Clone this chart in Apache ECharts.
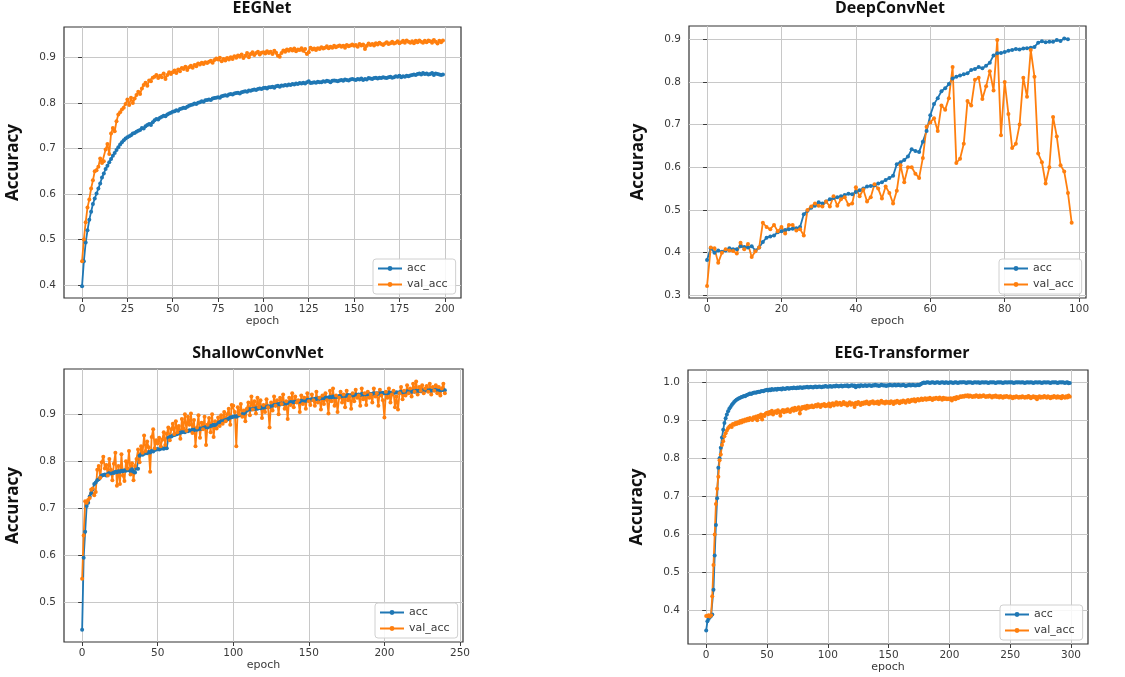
<!DOCTYPE html>
<html>
<head>
<meta charset="utf-8">
<script src="https://cdn.jsdelivr.net/npm/echarts/dist/echarts.min.js"></script>
<style>
html,body{margin:0;padding:0;background:#fff;}
#chart{width:1125px;height:677px;}
</style>
</head>
<body>
<div id="chart"></div>
<script>
// ---------------- DATA ----------------
const titles = ['EEGNet', 'DeepConvNet', 'ShallowConvNet', 'EEG-Transformer'];
const seriesNames = ['acc', 'val_acc'];
const yLabel = 'Accuracy';
const xLabel = 'epoch';

const eegnetXTicks = [0, 25, 50, 75, 100, 125, 150, 175, 200];
const eegnetYTicks = [0.4, 0.5, 0.6, 0.7, 0.8, 0.9];
const deepXTicks = [0, 20, 40, 60, 80, 100];
const deepYTicks = [0.3, 0.4, 0.5, 0.6, 0.7, 0.8, 0.9];
const shallowXTicks = [0, 50, 100, 150, 200, 250];
const shallowYTicks = [0.5, 0.6, 0.7, 0.8, 0.9];
const transXTicks = [0, 50, 100, 150, 200, 250, 300];
const transYTicks = [0.4, 0.5, 0.6, 0.7, 0.8, 0.9, 1.0];

const eegnetAcc = [
0.397,0.452,0.493,0.520,0.543,0.561,0.578,0.590,0.601,0.612,
0.623,0.636,0.645,0.655,0.662,0.670,0.677,0.684,0.690,0.697,
0.703,0.709,0.714,0.718,0.722,0.725,0.727,0.729,0.733,0.734,
0.737,0.739,0.741,0.745,0.744,0.749,0.752,0.754,0.752,0.758,
0.762,0.765,0.764,0.768,0.770,0.772,0.771,0.775,0.777,0.779,
0.781,0.782,0.784,0.783,0.787,0.788,0.790,0.789,0.792,0.794,
0.796,0.797,0.799,0.798,0.801,0.802,0.804,0.803,0.806,0.807,
0.808,0.807,0.810,0.811,0.812,0.813,0.812,0.815,0.816,0.817,
0.816,0.819,0.820,0.819,0.821,0.822,0.823,0.821,0.824,0.825,
0.826,0.825,0.828,0.827,0.829,0.830,0.829,0.831,0.832,0.831,
0.833,0.834,0.832,0.835,0.835,0.836,0.834,0.837,0.838,0.836,
0.839,0.838,0.840,0.839,0.841,0.840,0.842,0.841,0.843,0.842,
0.844,0.843,0.845,0.843,0.846,0.848,0.844,0.845,0.846,0.845,
0.847,0.846,0.846,0.848,0.847,0.849,0.848,0.846,0.849,0.850,
0.849,0.848,0.850,0.851,0.849,0.852,0.851,0.850,0.852,0.853,
0.852,0.851,0.853,0.852,0.854,0.851,0.853,0.852,0.855,0.854,
0.853,0.855,0.856,0.854,0.856,0.855,0.857,0.856,0.855,0.857,
0.858,0.856,0.857,0.859,0.858,0.860,0.857,0.859,0.858,0.860,
0.859,0.861,0.862,0.863,0.862,0.864,0.865,0.863,0.866,0.864,
0.865,0.863,0.864,0.866,0.862,0.865,0.864,0.863,0.862,0.863
];
const eegnetVal = [
0.452,0.500,0.538,0.570,0.588,0.612,0.630,0.650,0.652,0.660,
0.678,0.668,0.672,0.698,0.710,0.688,0.733,0.745,0.738,0.760,
0.775,0.780,0.786,0.790,0.798,0.808,0.796,0.812,0.800,0.810,
0.818,0.825,0.820,0.832,0.840,0.845,0.838,0.850,0.848,0.856,
0.858,0.862,0.855,0.860,0.857,0.865,0.853,0.862,0.868,0.864,
0.868,0.872,0.866,0.874,0.870,0.877,0.875,0.880,0.873,0.879,
0.882,0.878,0.884,0.881,0.887,0.885,0.889,0.886,0.890,0.888,
0.891,0.893,0.889,0.895,0.898,0.896,0.900,0.892,0.897,0.894,
0.899,0.896,0.901,0.897,0.903,0.900,0.905,0.902,0.907,0.899,
0.904,0.910,0.901,0.908,0.912,0.906,0.910,0.913,0.907,0.911,
0.912,0.909,0.914,0.910,0.913,0.908,0.915,0.911,0.904,0.902,
0.910,0.916,0.913,0.918,0.915,0.919,0.916,0.920,0.914,0.918,
0.917,0.921,0.915,0.919,0.908,0.912,0.922,0.918,0.920,0.917,
0.921,0.919,0.923,0.920,0.922,0.925,0.921,0.924,0.922,0.926,
0.923,0.925,0.927,0.924,0.926,0.922,0.928,0.925,0.927,0.929,
0.926,0.928,0.924,0.930,0.927,0.929,0.919,0.926,0.931,0.928,
0.930,0.927,0.932,0.929,0.933,0.930,0.928,0.931,0.934,0.930,
0.932,0.935,0.931,0.933,0.936,0.932,0.934,0.937,0.933,0.938,
0.935,0.933,0.936,0.932,0.937,0.934,0.938,0.935,0.933,0.937,
0.934,0.938,0.936,0.933,0.939,0.935,0.931,0.937,0.934,0.938
];

const deepAcc = [
0.383,0.410,0.400,0.405,0.402,0.405,0.410,0.408,0.408,0.415,
0.413,0.412,0.415,0.405,0.412,0.425,0.435,0.438,0.440,0.448,
0.450,0.453,0.455,0.456,0.457,0.460,0.490,0.498,0.505,0.510,
0.518,0.515,0.520,0.525,0.528,0.530,0.532,0.535,0.538,0.537,
0.542,0.546,0.550,0.555,0.556,0.558,0.562,0.565,0.570,0.575,
0.580,0.607,0.612,0.617,0.625,0.642,0.638,0.636,0.660,0.685,
0.722,0.748,0.762,0.778,0.785,0.795,0.808,0.812,0.815,0.818,
0.820,0.828,0.830,0.835,0.832,0.838,0.845,0.862,0.867,0.868,
0.870,0.873,0.875,0.877,0.876,0.878,0.879,0.880,0.882,0.892,
0.895,0.893,0.894,0.894,0.898,0.896,0.902,0.900
];
const deepVal = [
0.322,0.412,0.410,0.376,0.400,0.408,0.405,0.404,0.398,0.423,
0.408,0.420,0.390,0.403,0.412,0.470,0.460,0.455,0.465,0.450,
0.460,0.445,0.465,0.465,0.452,0.455,0.440,0.500,0.508,0.515,
0.510,0.508,0.520,0.508,0.532,0.510,0.525,0.530,0.512,0.515,
0.553,0.532,0.548,0.520,0.530,0.560,0.550,0.527,0.555,0.540,
0.515,0.545,0.605,0.565,0.600,0.600,0.585,0.575,0.622,0.695,
0.705,0.715,0.685,0.745,0.735,0.762,0.835,0.610,0.620,0.655,
0.755,0.745,0.805,0.810,0.760,0.790,0.825,0.780,0.898,0.675,
0.800,0.725,0.645,0.655,0.700,0.810,0.765,0.875,0.812,0.632,
0.612,0.562,0.600,0.718,0.672,0.605,0.590,0.540,0.470
];

const shallowAcc = [
0.442,0.595,0.650,0.705,0.712,0.725,0.732,0.740,0.752,0.755,
0.760,0.762,0.766,0.770,0.771,0.772,0.770,0.773,0.775,0.774,
0.776,0.775,0.778,0.777,0.779,0.778,0.780,0.779,0.781,0.780,
0.782,0.781,0.779,0.783,0.778,0.776,0.785,0.784,0.812,0.815,
0.814,0.816,0.818,0.817,0.820,0.819,0.822,0.821,0.824,0.825,
0.826,0.825,0.827,0.828,0.827,0.829,0.828,0.850,0.852,0.853,
0.855,0.856,0.857,0.858,0.860,0.861,0.862,0.863,0.862,0.865,
0.864,0.866,0.865,0.867,0.866,0.868,0.867,0.869,0.870,0.869,
0.871,0.872,0.873,0.872,0.874,0.875,0.876,0.878,0.877,0.880,
0.882,0.883,0.885,0.884,0.887,0.888,0.889,0.891,0.893,0.894,
0.895,0.896,0.895,0.897,0.898,0.899,0.900,0.902,0.905,0.908,
0.910,0.911,0.910,0.912,0.911,0.913,0.912,0.914,0.913,0.915,
0.914,0.916,0.915,0.917,0.916,0.918,0.919,0.920,0.919,0.921,
0.922,0.921,0.923,0.922,0.924,0.923,0.925,0.924,0.926,0.925,
0.926,0.927,0.926,0.928,0.927,0.929,0.928,0.930,0.929,0.931,
0.930,0.931,0.932,0.931,0.933,0.932,0.934,0.933,0.934,0.935,
0.934,0.936,0.935,0.936,0.937,0.936,0.938,0.937,0.938,0.937,
0.939,0.938,0.939,0.940,0.939,0.940,0.941,0.940,0.941,0.940,
0.941,0.942,0.941,0.942,0.941,0.943,0.942,0.943,0.942,0.943,
0.944,0.943,0.944,0.945,0.944,0.945,0.944,0.946,0.945,0.946,
0.945,0.946,0.945,0.947,0.946,0.945,0.947,0.946,0.947,0.946,
0.947,0.948,0.947,0.948,0.947,0.949,0.948,0.949,0.948,0.949,
0.948,0.950,0.949,0.950,0.949,0.950,0.951,0.950,0.951,0.950,
0.951,0.950,0.951,0.952,0.951,0.950,0.952,0.951,0.952,0.951,
0.951
];
const shallowVal = [
0.550,0.642,0.715,0.712,0.718,0.722,0.740,0.742,0.728,0.735,
0.782,0.790,0.765,0.798,0.810,0.785,0.792,0.770,0.805,0.782,
0.760,0.795,0.818,0.748,0.790,0.752,0.815,0.770,0.758,0.800,
0.785,0.822,0.772,0.796,0.760,0.790,0.805,0.825,0.798,0.832,
0.818,0.855,0.822,0.842,0.830,0.778,0.852,0.868,0.828,0.845,
0.838,0.850,0.832,0.846,0.862,0.835,0.858,0.872,0.845,0.868,
0.880,0.858,0.885,0.862,0.875,0.848,0.890,0.870,0.900,0.865,
0.895,0.878,0.902,0.860,0.888,0.832,0.872,0.898,0.850,0.882,
0.868,0.895,0.835,0.878,0.892,0.862,0.900,0.852,0.885,0.870,
0.893,0.875,0.898,0.880,0.905,0.885,0.900,0.912,0.878,0.920,
0.918,0.905,0.832,0.915,0.900,0.922,0.895,0.908,0.885,0.912,
0.925,0.898,0.938,0.910,0.928,0.902,0.935,0.915,0.930,0.892,
0.920,0.905,0.932,0.915,0.872,0.925,0.908,0.938,0.918,0.930,
0.900,0.935,0.922,0.942,0.912,0.928,0.890,0.935,0.920,0.945,
0.915,0.938,0.925,0.930,0.905,0.940,0.922,0.935,0.912,0.945,
0.928,0.920,0.942,0.930,0.918,0.948,0.925,0.935,0.910,0.940,
0.922,0.945,0.930,0.902,0.950,0.928,0.955,0.918,0.940,0.905,
0.935,0.948,0.925,0.942,0.915,0.950,0.930,0.938,0.912,0.945,
0.928,0.952,0.935,0.940,0.918,0.955,0.932,0.945,0.920,0.948,
0.935,0.942,0.925,0.955,0.938,0.945,0.918,0.952,0.940,0.930,
0.893,0.948,0.935,0.955,0.925,0.942,0.950,0.915,0.938,0.910,
0.945,0.958,0.932,0.950,0.940,0.962,0.945,0.955,0.938,0.965,
0.948,0.970,0.942,0.958,0.950,0.962,0.945,0.955,0.960,0.948,
0.965,0.942,0.958,0.950,0.962,0.945,0.958,0.940,0.955,0.965,
0.945
];

const transAcc = [
0.348,0.372,0.378,0.383,0.386,0.390,0.455,0.545,0.625,0.695,
0.775,0.800,0.828,0.855,0.875,0.893,0.905,0.915,0.924,0.930,
0.935,0.940,0.944,0.948,0.951,0.954,0.956,0.958,0.959,0.961,
0.962,0.964,0.963,0.966,0.967,0.968,0.970,0.969,0.971,0.972,
0.973,0.972,0.974,0.975,0.974,0.976,0.977,0.976,0.978,0.979,
0.980,0.978,0.981,0.979,0.982,0.980,0.981,0.982,0.980,0.983,
0.982,0.983,0.981,0.984,0.983,0.982,0.984,0.985,0.983,0.984,
0.985,0.984,0.986,0.985,0.984,0.986,0.985,0.987,0.986,0.985,
0.987,0.986,0.987,0.988,0.986,0.987,0.988,0.987,0.986,0.988,
0.989,0.987,0.988,0.989,0.988,0.987,0.989,0.988,0.990,0.989,
0.988,0.989,0.990,0.988,0.989,0.990,0.989,0.991,0.990,0.989,
0.990,0.991,0.989,0.990,0.991,0.990,0.992,0.989,0.990,0.991,
0.992,0.990,0.991,0.987,0.990,0.991,0.989,0.992,0.991,0.990,
0.991,0.992,0.990,0.991,0.992,0.991,0.990,0.992,0.991,0.993,
0.991,0.992,0.990,0.991,0.993,0.992,0.991,0.992,0.990,0.992,
0.991,0.993,0.992,0.991,0.992,0.993,0.991,0.992,0.993,0.992,
0.991,0.992,0.993,0.992,0.990,0.991,0.992,0.993,0.991,0.992,
0.993,0.992,0.991,0.992,0.993,0.992,0.994,0.996,0.998,0.999,
0.998,0.999,1.000,0.999,0.998,0.999,1.000,0.999,0.998,0.999,
1.000,0.999,0.998,0.999,1.000,0.999,0.998,1.000,0.999,0.998,
0.999,1.000,0.999,0.998,0.999,1.000,0.999,0.998,0.999,1.000,
0.999,1.000,1.000,0.999,0.998,1.000,0.999,1.000,0.999,0.998,
0.999,1.000,0.999,0.999,1.000,0.998,0.999,1.000,0.999,0.999,
1.000,0.999,0.998,0.999,1.000,0.999,1.000,0.999,0.998,0.999,
1.000,0.999,1.000,0.999,0.998,0.999,1.000,0.999,0.999,1.000,
0.999,1.000,0.999,0.998,0.999,1.000,0.999,1.000,0.999,0.999,
1.000,0.999,0.998,0.999,1.000,0.999,0.999,1.000,0.999,0.998,
0.999,1.000,0.999,0.999,1.000,0.999,0.998,0.999,1.000,0.999,
0.999,1.000,0.999,0.998,0.999,1.000,0.999,1.000,0.999,0.998,
0.999,1.000,0.999,1.000,0.999,0.998,0.999,1.000,0.997,0.998
];
const transVal = [
0.386,0.386,0.388,0.385,0.388,0.438,0.520,0.600,0.680,0.720,
0.752,0.795,0.810,0.835,0.845,0.858,0.866,0.873,0.879,0.883,
0.886,0.882,0.890,0.888,0.893,0.890,0.895,0.892,0.898,0.894,
0.900,0.897,0.902,0.899,0.904,0.900,0.906,0.903,0.901,0.908,
0.905,0.910,0.900,0.912,0.908,0.915,0.902,0.914,0.911,0.918,
0.920,0.916,0.922,0.918,0.925,0.915,0.921,0.924,0.919,0.926,
0.922,0.912,0.924,0.927,0.921,0.926,0.923,0.929,0.925,0.922,
0.928,0.931,0.925,0.933,0.927,0.930,0.934,0.918,0.929,0.935,
0.932,0.936,0.930,0.938,0.933,0.937,0.935,0.939,0.934,0.936,
0.940,0.936,0.942,0.938,0.935,0.941,0.939,0.943,0.937,0.940,
0.938,0.944,0.936,0.942,0.945,0.939,0.943,0.947,0.941,0.944,
0.946,0.940,0.943,0.948,0.942,0.945,0.939,0.944,0.947,0.941,
0.945,0.943,0.935,0.946,0.942,0.948,0.944,0.940,0.946,0.943,
0.947,0.944,0.949,0.945,0.942,0.948,0.946,0.950,0.944,0.947,
0.945,0.949,0.943,0.947,0.951,0.946,0.948,0.944,0.949,0.946,
0.948,0.945,0.950,0.947,0.943,0.949,0.946,0.951,0.948,0.945,
0.950,0.947,0.952,0.949,0.946,0.951,0.953,0.948,0.950,0.954,
0.951,0.955,0.949,0.953,0.956,0.952,0.954,0.957,0.953,0.955,
0.958,0.954,0.957,0.955,0.959,0.956,0.953,0.958,0.956,0.959,
0.957,0.955,0.960,0.957,0.954,0.959,0.956,0.958,0.955,0.957,
0.955,0.958,0.952,0.957,0.959,0.955,0.961,0.958,0.960,0.963,
0.961,0.964,0.962,0.965,0.963,0.966,0.962,0.965,0.963,0.961,
0.964,0.962,0.966,0.963,0.961,0.965,0.962,0.964,0.966,0.963,
0.961,0.964,0.962,0.965,0.963,0.960,0.964,0.962,0.965,0.961,
0.963,0.960,0.964,0.962,0.959,0.963,0.961,0.964,0.962,0.960,
0.963,0.961,0.958,0.962,0.960,0.963,0.961,0.959,0.962,0.960,
0.963,0.961,0.959,0.962,0.960,0.964,0.962,0.958,0.961,0.963,
0.960,0.962,0.955,0.961,0.963,0.959,0.962,0.960,0.964,0.961,
0.959,0.963,0.961,0.958,0.962,0.960,0.964,0.961,0.959,0.963,
0.960,0.962,0.958,0.964,0.961,0.959,0.963,0.960,0.965,0.962
];

// ---------------- LAYOUT / STYLE ----------------
const BLUE = '#1f77b4', ORANGE = '#ff7f0e';
const panels = [
  { title: titles[0], acc: eegnetAcc, val: eegnetVal, xTicks: eegnetXTicks, yTicks: eegnetYTicks,
    grid: {left: 64, top: 27, width: 397, height: 271}, xr: [-9.95, 208.95], yr: [0.371, 0.9675],
    titlePos: [262, 0], legendPos: [373, 259] },
  { title: titles[1], acc: deepAcc, val: deepVal, xTicks: deepXTicks, yTicks: deepYTicks,
    grid: {left: 689, top: 26, width: 397, height: 272}, xr: [-4.85, 101.85], yr: [0.2937, 0.931],
    titlePos: [890, 0], legendPos: [999, 259] },
  { title: titles[2], acc: shallowAcc, val: shallowVal, xTicks: shallowXTicks, yTicks: shallowYTicks,
    grid: {left: 64, top: 369, width: 399, height: 273}, xr: [-12, 252], yr: [0.4157, 0.9964],
    titlePos: [258, 345], legendPos: [375, 603] },
  { title: titles[3], acc: transAcc, val: transVal, xTicks: transXTicks, yTicks: transYTicks,
    grid: {left: 688, top: 370, width: 400, height: 274}, xr: [-14.95, 313.95], yr: [0.3125, 1.032],
    titlePos: [902, 345], legendPos: [1000, 605] }
];

const tickFont = {fontFamily: 'DejaVu Sans', fontSize: 10.5, color: '#3a3a3a'};
const option = {
  animation: false,
  backgroundColor: '#ffffff',
  title: [], grid: [], xAxis: [], yAxis: [], series: [], legend: []
};

panels.forEach((p, i) => {
  option.title.push({
    text: p.title, left: p.titlePos[0], top: p.titlePos[1], textAlign: 'center', padding: 0,
    textStyle: {fontFamily: 'Open Sans', fontWeight: 'bold', fontSize: 16, color: '#111'}
  });
  option.grid.push(Object.assign({show: true, borderColor: '#333333', borderWidth: 1.2, backgroundColor: 'transparent'}, p.grid));
  option.xAxis.push({
    type: 'value', gridIndex: i, min: p.xr[0], max: p.xr[1],
    name: xLabel, nameLocation: 'middle', nameGap: 18,
    nameTextStyle: {fontFamily: 'DejaVu Sans', fontSize: 11, color: '#3a3a3a'},
    axisLine: {show: false},
    axisTick: {show: true, length: 4, lineStyle: {color: '#3c3c3c'}, customValues: p.xTicks},
    axisLabel: Object.assign({margin: 6, customValues: p.xTicks, formatter: v => String(Math.round(v))}, tickFont),
    splitLine: {show: true, lineStyle: {color: '#c8c8c8', width: 1}}
  });
  option.yAxis.push({
    type: 'value', gridIndex: i, min: p.yr[0], max: p.yr[1],
    name: yLabel, nameLocation: 'middle', nameGap: 42, nameRotate: 90,
    nameTextStyle: {fontFamily: 'Open Sans', fontWeight: 'bold', fontSize: 17, color: '#111'},
    axisLine: {show: false},
    axisTick: {show: true, length: 4, lineStyle: {color: '#3c3c3c'}, customValues: p.yTicks},
    axisLabel: Object.assign({margin: 8, customValues: p.yTicks, formatter: v => v.toFixed(1)}, tickFont),
    splitLine: {show: true, lineStyle: {color: '#c8c8c8', width: 1}}
  });
  [[seriesNames[0], p.acc, BLUE], [seriesNames[1], p.val, ORANGE]].forEach(([name, arr, color]) => {
    option.series.push({
      name: name, type: 'line', xAxisIndex: i, yAxisIndex: i,
      data: arr.map((v, k) => [k, v]),
      symbol: 'circle', symbolSize: 4, showSymbol: true,
      lineStyle: {color: color, width: 1.8}, itemStyle: {color: color},
      emphasis: {disabled: true}
    });
  });
  option.legend.push({
    data: seriesNames, orient: 'vertical', left: p.legendPos[0], top: p.legendPos[1],
    itemWidth: 24, itemHeight: 6, itemGap: 5, padding: [4, 8, 4, 4],
    backgroundColor: 'rgba(255,255,255,0.85)', borderColor: '#d0d0d0', borderWidth: 1, borderRadius: 3,
    textStyle: {fontFamily: 'DejaVu Sans', fontSize: 11, color: '#3a3a3a'},
    selectedMode: false
  });
});

const chart = echarts.init(document.getElementById('chart'), null, {renderer: 'canvas'});
chart.setOption(option);
</script>
</body>
</html>
